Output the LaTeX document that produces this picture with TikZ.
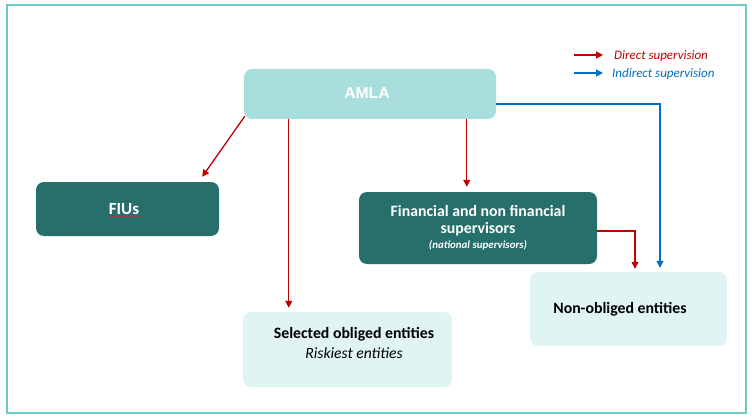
\documentclass[tikz,border=0pt]{standalone}
\usepackage{fontspec}
\setmainfont{Carlito}
\newfontfamily\arialfont{Liberation Sans}
\usetikzlibrary{arrows.meta,calc,decorations.pathmorphing}
\definecolor{frameC}{HTML}{6CC9C6}
\definecolor{amlaC}{HTML}{A8DFDD}
\definecolor{darkC}{HTML}{276F6B}
\definecolor{paleC}{HTML}{E0F4F3}
\definecolor{redC}{HTML}{C00000}
\definecolor{blueC}{HTML}{0070C0}
\tikzset{
  box/.style={rounded corners=8pt, inner sep=0pt, draw=none},
  darkbox/.style={box, fill=darkC},
  palebox/.style={box, fill=paleC},
  txt/.style={inner sep=0pt, align=center},
  direct/.style={draw=redC, line width=1.3pt, -{Triangle[length=7pt,width=7pt]}},
  indirect/.style={draw=blueC, line width=1.3pt, -{Triangle[length=7pt,width=7pt]}},
}
\begin{document}
\begin{tikzpicture}[x=1pt,y=-1pt]
\useasboundingbox (0,0) rectangle (752,417);
\draw[frameC, line width=2.2pt] (7,5) rectangle (746,413);

% boxes
\node[box, fill=amlaC, minimum width=252pt, minimum height=50pt] (amla) at (370,94) {};
\node[darkbox, minimum width=183pt, minimum height=54pt] (fius) at (127.5,209) {};
\node[darkbox, minimum width=238pt, minimum height=72pt] (fin) at (478,228) {};
\node[palebox, minimum width=197pt, minimum height=74pt] (non) at (628.5,309) {};
\node[palebox, minimum width=209pt, minimum height=75pt] (sel) at (347.5,349.5) {};

% texts
\node[txt, text=white, font=\arialfont\bfseries\fontsize{15.7}{18}\selectfont] (amlat) at (367,93) {AMLA};
\node[txt, text=white, font=\bfseries\fontsize{17}{20}\selectfont] (fiust) at (124,209) {FIUs};
\draw[redC!80, line width=0.3pt, decorate, decoration={snake, amplitude=0.5pt, segment length=2pt}] (108,216.5) -- (141,216.5);
\node[txt, text=white, font=\bfseries\fontsize{15.8}{18}\selectfont] (fint1) at (478,211) {Financial and non financial};
\node[txt, text=white, font=\bfseries\fontsize{15.8}{18}\selectfont] (fint2) at (478,229) {supervisors};
\node[txt, text=white, font=\bfseries\itshape\fontsize{10.9}{12}\selectfont] (fint3) at (478,245) {(national supervisors)};
\node[txt, font=\bfseries\fontsize{15.8}{18}\selectfont] (nont) at (620,309) {Non-obliged entities};
\node[txt, font=\bfseries\fontsize{15.8}{18}\selectfont] (selt1) at (354,334) {Selected obliged entities};
\node[txt, font=\itshape\fontsize{15.6}{18}\selectfont] (selt2) at (354,353) {Riskiest entities};

% connectors
\draw[direct] ([xshift=1pt,yshift=3pt]amla.south west) -- ([xshift=-17pt,yshift=5pt]fius.north east);
\coordinate (a1) at ([xshift=45pt]amla.south west);
\draw[direct, shorten >=4pt] (a1) -- (a1 |- sel.north);
\coordinate (a2) at ([xshift=223pt]amla.south west);
\draw[direct, shorten >=5pt] (a2) -- (a2 |- fin.north);
\coordinate (b1) at ([xshift=31.5pt]non.north);
\draw[indirect, shorten >=4pt] ([yshift=-10pt]amla.east) -| (b1);
\coordinate (r1) at ([xshift=6.5pt]non.north);
\draw[direct, shorten >=3pt] ([yshift=-3pt]fin.east) -| (r1);

% legend
\coordinate (l1a) at (574,55);
\coordinate (l1b) at (603,55);
\coordinate (l2a) at (574,73);
\coordinate (l2b) at (603,73);
\draw[direct] (l1a) -- (l1b);
\draw[indirect] (l2a) -- (l2b);
\node[txt, anchor=west, text=redC, font=\itshape\fontsize{13}{15}\selectfont] (leg1) at (614,56) {Direct supervision};
\node[txt, anchor=west, text=blueC, font=\itshape\fontsize{13}{15}\selectfont] (leg2) at (612,74) {Indirect supervision};
\end{tikzpicture}
\end{document}
